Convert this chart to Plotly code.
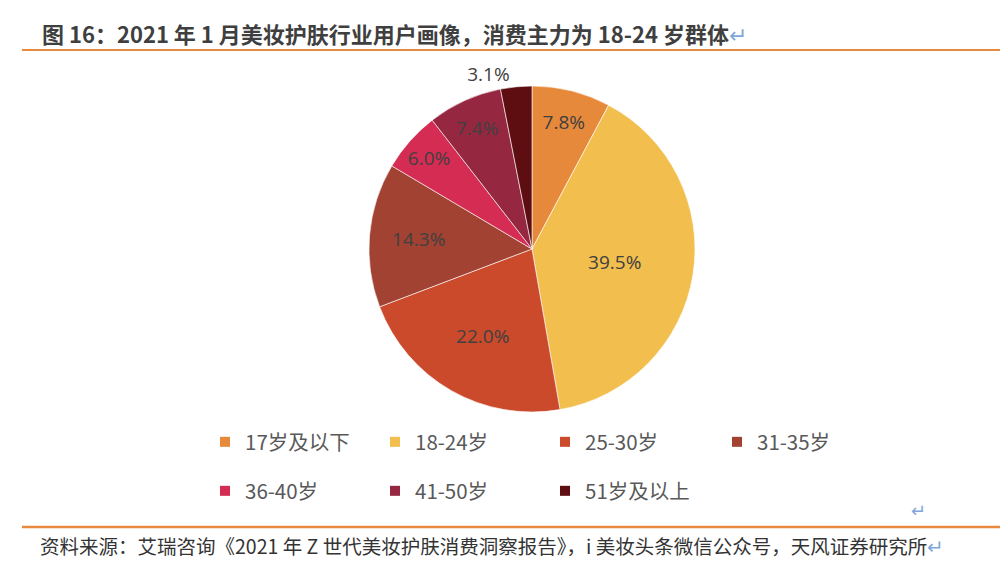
import plotly.graph_objects as go

# ---- data ----
categories = ["17岁及以下", "18-24岁", "25-30岁", "31-35岁", "36-40岁", "41-50岁", "51岁及以上"]
shares = [7.8, 39.5, 22.0, 14.3, 6.0, 7.4, 3.1]
colors = ["#E6893B", "#F2BE4E", "#CB4A2B", "#A24232", "#D42C53", "#952840", "#5E0E11"]
label_pos = ["inside", "inside", "inside", "inside", "inside", "inside", "outside"]

title_text = "图 16：2021 年 1 月美妆护肤行业用户画像，消费主力为 18-24 岁群体"
source_text = "资料来源：艾瑞咨询《2021 年 Z 世代美妆护肤消费洞察报告》，i 美妆头条微信公众号，天风证券研究所"

W, H = 1000, 578
FONT = "Noto Sans CJK SC"
MARK = '<span style="color:#7FA7D9;font-weight:normal">↵</span>'

fig = go.Figure()

fig.add_trace(go.Pie(
    labels=categories,
    values=shares,
    sort=False,
    direction="clockwise",
    rotation=0,
    marker=dict(colors=colors, line=dict(color="rgba(255,255,255,0.6)", width=1)),
    texttemplate="%{value:.1f}%",
    textposition=label_pos,
    insidetextorientation="horizontal",
    textfont=dict(family="Open Sans", size=19, color="#404040"),
    domain=dict(x=[(532 - 163) / W, (532 + 163) / W], y=[1 - 412 / H, 1 - 86 / H]),
    showlegend=False,
    hoverinfo="label+percent",
))

# legend entries (one legend per item to reproduce the grid layout)
text_x = [245, 415, 585, 757, 245, 415, 585]
row_y = [442, 442, 442, 442, 491, 491, 491]
for i, (cat, col) in enumerate(zip(categories, colors)):
    lname = "legend" if i == 0 else f"legend{i + 1}"
    fig.add_trace(go.Scatter(
        x=[None], y=[None], mode="markers", name=cat,
        marker=dict(symbol="square", size=10, color=col),
        legend=lname, showlegend=True, hoverinfo="skip",
    ))
    fig.update_layout(**{lname: dict(
        x=(text_x[i] - 40) / W, y=1 - row_y[i] / H,
        xanchor="left", yanchor="middle",
        bgcolor="rgba(0,0,0,0)", borderwidth=0,
        font=dict(family=FONT, size=20.5, color="#595959"),
    )})

fig.update_layout(
    width=W, height=H,
    margin=dict(l=0, r=0, t=0, b=0),
    paper_bgcolor="white", plot_bgcolor="white",
    xaxis=dict(visible=False), yaxis=dict(visible=False),
    shapes=[
        dict(type="line", xref="paper", yref="paper", x0=22 / W, x1=1, y0=1 - 50 / H, y1=1 - 50 / H,
             line=dict(color="#E8893D", width=2)),
        dict(type="line", xref="paper", yref="paper", x0=22 / W, x1=1, y0=1 - 527 / H, y1=1 - 527 / H,
             line=dict(color="#E8893D", width=2.5)),
    ],
    annotations=[
        dict(text="<b>" + title_text + "</b>" + MARK, x=40 / W, y=1 - 33 / H, xref="paper", yref="paper",
             xanchor="left", yanchor="middle", showarrow=False,
             font=dict(family=FONT, size=22, color="#3F3F3F")),
        dict(text=source_text + MARK, x=38 / W, y=1 - 545 / H, xref="paper", yref="paper",
             xanchor="left", yanchor="middle", showarrow=False,
             font=dict(family=FONT, size=19.5, color="#333333")),
        dict(text="↵", x=918 / W, y=1 - 509 / H, xref="paper", yref="paper",
             xanchor="center", yanchor="middle", showarrow=False,
             font=dict(family=FONT, size=18, color="#7FA7D9")),
    ],
)

fig.write_html("out.html")
